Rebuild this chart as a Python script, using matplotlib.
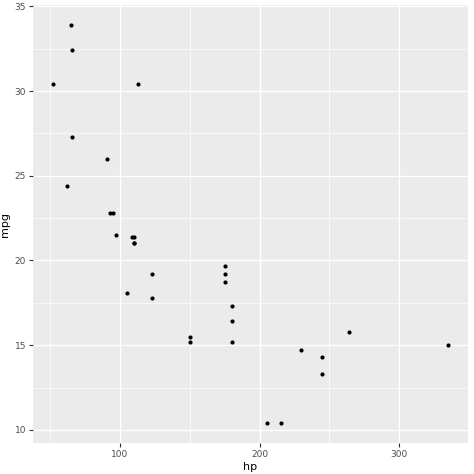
import matplotlib
matplotlib.use("Agg")
import matplotlib.pyplot as plt

hp = [110,110,93,110,175,105,245,62,95,123,123,180,180,180,205,215,230,66,52,65,97,150,150,245,175,66,91,113,264,175,335,109]
mpg = [21,21,22.8,21.4,18.7,18.1,14.3,24.4,22.8,19.2,17.8,16.4,17.3,15.2,10.4,10.4,14.7,32.4,30.4,33.9,21.5,15.5,15.2,13.3,19.2,27.3,26,30.4,15.8,19.7,15,21.4]

fig = plt.figure(figsize=(4.74,4.74), dpi=100)
ax = fig.add_axes([0.0696, 0.0654, 0.9177, 0.924])
ax.set_facecolor("#EBEBEB")
ax.scatter(hp, mpg, s=9, color="black", zorder=3, linewidths=0)
ax.set_xlim(37.85, 349.15)
ax.set_ylim(9.225, 35.075)
ax.set_xticks([100,200,300])
ax.set_xticks([50,150,250], minor=True)
ax.set_yticks([10,15,20,25,30,35])
ax.set_yticks([12.5,17.5,22.5,27.5,32.5], minor=True)
ax.grid(which="major", color="white", linewidth=1.0)
ax.grid(which="minor", color="white", linewidth=0.5)
ax.set_axisbelow(True)
for s in ax.spines.values():
    s.set_visible(False)
ax.tick_params(which="major", length=3, color="#333333", labelsize=6.5, labelcolor="#4D4D4D", pad=2)
ax.tick_params(which="minor", length=0)
ax.set_xlabel("hp", fontsize=8, labelpad=2)
ax.set_ylabel("mpg", fontsize=8, labelpad=3)
fig.savefig("out.png", dpi=100)
